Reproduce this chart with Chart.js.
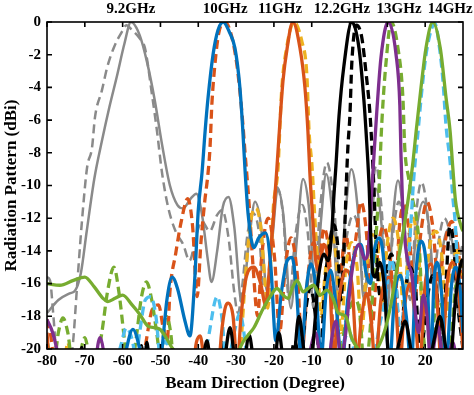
<!DOCTYPE html>
<html>
<head>
<meta charset="utf-8">
<script src="https://cdn.jsdelivr.net/npm/chart.js@4.4.0/dist/chart.umd.min.js"></script>
<style>
    html, body { margin: 0; padding: 0; background: #fff; }
</style>
</head>
<body>
<canvas id="radChart" width="474" height="395"></canvas>
<script>
// Axis ticks
const xTickVals = [-80, -70, -60, -50, -40, -30, -20, -10, 0, 10, 20];
const yTickVals = [0, -2, -4, -6, -8, -10, -12, -14, -16, -18, -20];

// Frequency labels above the plot (x in degrees)
const freqNames = ['9.2GHz', '10GHz', '11GHz', '12.2GHz', '13GHz', '14GHz'];
const freqLabelX = [-57.8, -32.9, -18.4, -2.0, 13.1, 26.6];

// Series: [angle, dBi]
const grey92Solid = [[-80,-17.8],[-77,-17.0],[-74,-16.6],[-72.5,-16.4],[-71,-15.3],[-69.5,-12.8],[-67.5,-9.6],[-65.5,-7.3],[-63.5,-5.2],[-61.5,-3.3],[-59.5,-1.3],[-57.8,0],[-55.5,-0.8],[-53.5,-2.5],[-51.5,-4.8],[-49.5,-7.6],[-47.5,-10.0],[-45.5,-11.2],[-44,-11.4],[-42,-10.8],[-40.5,-10.5],[-39,-11.8],[-37.5,-14.5],[-36.5,-15.9],[-35,-14],[-33.5,-11.3],[-32,-10.7],[-30.5,-12.5],[-28.5,-17.2],[-26.5,-13.2],[-25,-11],[-23.5,-12.3],[-21.8,-16.5],[-20.3,-13],[-19,-10.2],[-17.5,-11.8],[-15.5,-17.5],[-14,-13.5],[-12.3,-9.6],[-10.8,-11.2],[-9,-16.5],[-7.5,-12],[-6.2,-9.3],[-4.5,-11.8],[-2.8,-17.5],[-1.2,-12],[0.5,-9.0],[2.2,-11.5],[3.8,-17],[5.3,-13],[7,-10.2],[8.5,-12.5],[10,-17.5],[11.5,-12],[12.8,-9.7],[14.3,-11.8],[16,-16.5],[17.8,-12.5],[19.5,-11],[21,-12.5],[22.8,-17],[24.5,-14],[26,-12.7],[27.5,-14],[29,-18],[30,-16]];
const grey92Dash = [[-80,-15.6],[-79.2,-15.8],[-78.3,-18],[-77,-21.5],[-74.5,-21.5],[-73.2,-19.8],[-72,-16],[-70.8,-12.3],[-69.4,-8.9],[-68.1,-7.7],[-67.3,-5.8],[-65.5,-4.2],[-64,-2.7],[-62.2,-1.5],[-60.2,-0.6],[-59,-0.2],[-57.5,-0.5],[-55.5,-1.0],[-54.1,-1.6],[-52.2,-4.5],[-50.9,-6.7],[-49.6,-9.2],[-48,-11.3],[-46,-12.8],[-44,-13.6],[-42.3,-14.6],[-40.5,-13],[-39,-12.2],[-37,-12.8],[-35,-11.8],[-33.7,-11.5],[-32,-13.2],[-30.5,-16.5],[-29.5,-17.8],[-28.3,-16],[-27,-13],[-25.5,-11.7],[-24,-12.8],[-22.3,-17.5],[-20.8,-13.5],[-19.2,-10.1],[-17.5,-12],[-16,-17],[-14.3,-13],[-12.5,-11.2],[-11,-13],[-9.5,-17.5],[-8,-12],[-6,-8.6],[-4,-11.5],[-2.5,-16.5],[-1,-13.5],[1,-11.8],[2.5,-13],[4,-17],[5.5,-12],[7,-8.8],[8.5,-11.5],[10,-16.5],[11.5,-13],[13,-11],[14.5,-12.5],[16,-17],[17.5,-12],[19,-9.8],[20.5,-11.5],[22,-16],[23.5,-13.5],[25,-12],[26.5,-13],[28,-16.5],[29.5,-14],[30,-13.5]];

const blue10Solid = [[-80,-23],[-62,-23],[-59.5,-20.5],[-57.3,-18.8],[-55,-20.5],[-53,-23],[-51,-22],[-49.6,-20],[-48.3,-17],[-46.9,-15.6],[-45.5,-16.3],[-43.5,-18.3],[-42.2,-19.2],[-41,-16],[-40,-11.5],[-39,-9.2],[-38.2,-6.7],[-37.4,-4.6],[-36.1,-2.0],[-34.8,-0.5],[-33.4,0],[-31.8,-0.6],[-30.3,-1.6],[-29,-4],[-28.2,-6.7],[-27.6,-9.2],[-26.8,-11.8],[-25.3,-13.8],[-24,-13.2],[-22.2,-12.9],[-20.8,-15],[-19.5,-19.5],[-18,-16.5],[-16.5,-14.6],[-15.2,-14.4],[-14,-16.5],[-12.8,-20.5],[-11.5,-16.5],[-10.2,-14.8],[-9,-16],[-7.5,-20.5],[-6.2,-16.5],[-5,-15.2],[-3.5,-17.5],[-2,-21],[-0.5,-17],[1.5,-14],[3,-13.6],[4.5,-15.5],[5.5,-16],[6.5,-14],[7.8,-13.2],[9.2,-15],[10.5,-21],[12,-16.5],[13.5,-15.5],[15,-18],[16.3,-21],[17.5,-15.5],[18.9,-13.4],[20.5,-15.5],[21.5,-21],[22.3,-16],[23.2,-14.7],[24.3,-16.5],[25.5,-21],[27,-16],[28.2,-15.0],[29.3,-16.5],[30,-19]];
const orange10Dash = [[-80,-18.2],[-79,-19.2],[-77.5,-22],[-56,-22],[-54,-19.8],[-52.2,-17.6],[-50.5,-17.3],[-49.2,-18.8],[-48.2,-19.5],[-47.5,-16.5],[-46,-14.2],[-44.5,-12.2],[-42.8,-10.8],[-41.5,-12.5],[-40.3,-16.8],[-39.3,-13.5],[-38.3,-11],[-37.4,-9.2],[-36.9,-7.7],[-36.4,-5],[-35.6,-2.6],[-34.6,-0.7],[-33,0],[-31.5,-0.6],[-29.8,-2.6],[-28.4,-5.7],[-27.6,-8.1],[-26.6,-11],[-25.5,-15],[-24.3,-18],[-23.3,-14.5],[-21.5,-12],[-19.8,-14.5],[-18.5,-19],[-17,-15],[-15.5,-13.2],[-13.8,-15.5],[-12.5,-20],[-11,-15.5],[-9.5,-13.5],[-8,-14.5],[-6.8,-12.6],[-5.3,-14.5],[-4,-20],[-2.5,-16],[-1,-13],[0.5,-15],[1.8,-13],[3,-11],[4.5,-13],[6,-18.5],[7.5,-14],[9,-12.5],[10.5,-14],[12,-17],[13.2,-12.5],[14.4,-11.2],[15.8,-13],[17.2,-17],[18.8,-13],[20.5,-11],[22,-12.5],[23.5,-16],[25.2,-13.5],[27,-12.2],[28.5,-13.5],[30,-17]];

const orange11Solid = [[-80,-19],[-79,-22],[-42,-22],[-40.5,-19.6],[-39.5,-19.2],[-38.3,-21],[-35,-24],[-34.2,-20],[-33,-17.6],[-32,-17.2],[-30.8,-18],[-29.7,-21],[-28.7,-18],[-27.2,-15.5],[-25.3,-15.0],[-23.5,-16],[-22.2,-17.3],[-21,-14.5],[-20,-11.5],[-19.2,-8.9],[-18.4,-6.1],[-17.6,-3.6],[-16.5,-1.6],[-15,0],[-13.1,-1.6],[-11.8,-4],[-11,-6.7],[-10.5,-9.2],[-9.8,-11.8],[-9,-14.5],[-8.2,-15.2],[-6.8,-13.6],[-5.3,-15.5],[-4.2,-20.5],[-2.8,-17],[-1,-15.2],[0.6,-16],[2,-20.5],[3.2,-18],[4.5,-16.6],[5.8,-18.5],[6.8,-21],[8.3,-17],[10.5,-15.6],[12.3,-17.5],[13.3,-21],[14.5,-17.5],[16,-16],[17.5,-18.5],[18.5,-21],[20,-16],[21.5,-14.8],[23,-16.5],[24.3,-21],[25.8,-16],[27.3,-14.7],[28.8,-16.5],[30,-20]];
const yellow11Dash = [[-80,-22],[-76,-22],[-74.5,-19.6],[-73,-22],[-30,-22],[-29,-20.5],[-27.5,-15.5],[-26,-12],[-24.8,-11.4],[-23.5,-12.5],[-22.5,-15.5],[-21.6,-17.5],[-20.8,-14.5],[-20.2,-11.5],[-18.9,-8.9],[-18.4,-6.3],[-17.9,-4],[-16.8,-1.8],[-14.7,0],[-12.6,-1.2],[-11.3,-3.2],[-10.7,-6.7],[-9.9,-8.9],[-9.3,-11.5],[-8.5,-14.5],[-7.5,-18],[-6.5,-15.5],[-5,-13],[-3.5,-14.5],[-2.3,-19],[-1,-15],[0.5,-13.5],[2,-15],[3.2,-19],[4.5,-15],[6,-13],[7.5,-14],[8.5,-17.5],[10,-13.5],[11.5,-12],[13,-13.5],[14.3,-17.5],[15.8,-13],[16.8,-12],[18.2,-14],[19.5,-18],[21,-14],[22.8,-12.8],[24.5,-14.5],[25.5,-18],[27,-15],[28.5,-14],[30,-15.5]];

const black122Solid = [[-80,-23],[-71.5,-21],[-70.8,-19.9],[-70,-21],[-55,-23],[-54,-20.5],[-53.6,-19.6],[-53,-20.5],[-45,-24],[-39,-21],[-37.7,-19.5],[-36.5,-21],[-33.5,-21],[-31.6,-18.7],[-30,-21],[-28,-21],[-26.6,-19.1],[-25,-21],[-20,-21],[-18.7,-19],[-17.2,-21],[-15,-21],[-13.4,-18],[-11.8,-20.5],[-10.3,-21],[-9.2,-18.5],[-8.3,-15.8],[-6.8,-14.2],[-5.6,-14.6],[-4.6,-12.5],[-4.1,-10.5],[-3.6,-8.8],[-2.8,-5.8],[-1.5,-2.7],[0.6,0],[2.5,-1.6],[3.8,-4.8],[4.6,-7.6],[5.2,-10.2],[5.6,-13],[6.1,-15.3],[6.8,-15.6],[8,-14.7],[9.3,-16.5],[10.3,-20.5],[11.5,-21],[13.2,-19.5],[14.7,-18.3],[16.2,-20],[17.5,-22],[20,-22],[22.3,-19.5],[23.9,-18],[25.5,-20],[26.5,-21],[28,-17],[29.5,-14.7],[30,-14.5]];
const black122Dash = [[-80,-22],[-56,-22],[-55,-19.8],[-54,-22],[-35,-22],[-33.5,-19.6],[-32.5,-22],[-16,-21],[-14.5,-19.5],[-13,-21],[-11.5,-17.5],[-10.3,-16.2],[-9,-18],[-7.8,-20.5],[-6.5,-16],[-5.2,-13.4],[-4.2,-12.4],[-3.2,-13.5],[-2.3,-17],[-1.5,-14],[-0.7,-9],[-0.4,-7.5],[0.1,-5.7],[0.6,-2.5],[1.8,-0.2],[3.2,-0.9],[4.4,-3.2],[5.4,-5.6],[6,-8],[6.5,-10.5],[7,-13.5],[7.6,-16],[8.5,-17],[9.6,-15.5],[11,-14.2],[12.3,-16],[13.3,-20],[14.5,-17],[16,-15],[17.5,-16.5],[18.7,-20.5],[20.5,-17],[22,-15.5],[23.3,-17],[24.3,-20],[25.5,-16],[26.5,-12.5],[27.5,-13.5],[28.5,-17],[30,-20]];

const purple13Solid = [[-80,-18.2],[-78.5,-19],[-77,-20.5],[-75.5,-23],[-68,-22],[-66,-19.3],[-64,-21.5],[-60,-23],[-22,-23],[-20,-20.5],[-19,-20],[-18,-21],[-12,-22],[-10.3,-20],[-9,-19],[-7.8,-20.5],[-6,-22],[-4.8,-19.5],[-3.6,-18.3],[-2.3,-20.5],[-1,-19],[0.5,-15.5],[2.5,-13.6],[4,-14.5],[4.9,-14],[5.7,-11],[6.5,-8],[7.2,-5.5],[8.3,-2.2],[10.2,0],[12.3,-2],[13.3,-5.1],[13.6,-8.1],[14,-11],[14.7,-13.5],[15.6,-14.8],[16.5,-15.5],[17.5,-18],[18.3,-19],[19.5,-16.7],[20.5,-18],[21.5,-21],[22.5,-19.5],[23.4,-18.6],[24.5,-20.5],[25.5,-21],[27.3,-19.6],[28.5,-21],[30,-22]];
const green13Dash = [[-80,-19.5],[-79,-20.5],[-78,-20.5],[-77,-19],[-75.8,-18.1],[-74.5,-19],[-73.2,-21],[-71.5,-20.5],[-70,-19.3],[-68.8,-20.5],[-67.5,-21.5],[-65.5,-19],[-64,-16.5],[-62.3,-15],[-61,-16.5],[-59.5,-19.5],[-58.3,-22],[-56.5,-19.5],[-55,-16.8],[-53.7,-15.9],[-52.3,-17],[-51,-19],[-50,-20.5],[-48.5,-18],[-47.3,-19],[-46,-22],[-4,-22],[-3,-21],[-1.5,-19],[0,-17.5],[1.5,-17],[2.8,-18],[3.8,-21],[5,-20],[6.5,-15],[7.3,-12],[8,-9.2],[8.3,-7.3],[8.8,-5.1],[9.6,-2.6],[11,0],[12.8,-1.6],[14.1,-4.6],[14.6,-7.7],[15.6,-9.5],[16.8,-11],[17.6,-11.8],[18.5,-14],[19.5,-19],[20.5,-20.5],[22,-19],[23,-17],[24.5,-17.5],[25.8,-21],[27,-19],[28.3,-16],[29.5,-17],[30,-18.5]];

const green14Solid = [[-80,-16],[-76.6,-16.1],[-73,-15.8],[-70,-15.6],[-67.5,-16.2],[-65.2,-16.9],[-63.9,-17.1],[-62,-16.9],[-60,-16.7],[-57.5,-17.3],[-55.4,-17.9],[-53.3,-18.6],[-51.5,-18.7],[-50.1,-18.8],[-48.5,-19.3],[-46.7,-20],[-44,-20.6],[-40,-21],[-35,-21.5],[-30.5,-21],[-28.7,-19.8],[-27,-19.2],[-25.3,-18.7],[-23,-17.6],[-21,-16.8],[-19.2,-16.3],[-17.6,-16.7],[-16.3,-16.9],[-15,-16.2],[-13.9,-15.8],[-12.3,-16.5],[-11,-16.3],[-9.5,-16.1],[-7.8,-16.7],[-6,-16.4],[-4.4,-16.9],[-3,-17.8],[-1,-18],[0.5,-19.3],[2,-19.9],[4.5,-20.5],[7.5,-19.9],[9.4,-18.8],[11,-17.2],[12.8,-14.7],[14.7,-12.1],[16,-10],[16.8,-8.5],[17.6,-6.7],[18.9,-4],[20.2,-1.6],[22,0],[24,-1.6],[25.5,-4.6],[26.6,-6.7],[27.3,-8.9],[28,-10.9],[29.5,-12.5],[30,-12.8]];
const lblue14Dash = [[-80,-20.5],[-62,-21],[-60.5,-19.8],[-59,-18.7],[-57.5,-19.4],[-56.5,-20.5],[-55.5,-19],[-54,-17],[-52.5,-16.8],[-51.2,-18],[-50,-20.5],[-48.5,-19.5],[-47,-21],[-40,-22],[-37.5,-19.5],[-35,-16.8],[-33.8,-18],[-32.5,-21],[-30.5,-19],[-29,-17.8],[-27.5,-19.8],[-26.5,-22],[-10,-22],[-3,-21],[-1.5,-19.5],[0,-19],[1.5,-20.5],[3,-22],[6,-21],[8,-18.5],[9.6,-16.7],[11,-14.5],[12,-15.5],[13.5,-19],[14.5,-17],[15.5,-15],[16.3,-12],[17,-9.5],[18,-7],[19.2,-4],[20.5,-1.6],[22.6,-0.1],[23.8,-1.6],[24.7,-3.6],[25.5,-6.3],[26.6,-8.6],[27.3,-10.7],[28,-12.5],[28.7,-16],[29.3,-18],[30,-19]];

// Line colours (MATLAB defaults + grey/black)
const colors = {
    grey: '#8a8a8a', blue: '#0072BD', orange: '#D95319', yellow: '#EDB120',
    black: '#000000', purple: '#7E2F8E', green: '#77AC30', lblue: '#4DBEEE'
};

const serif = '"Liberation Serif", "Times New Roman", serif';

function makeLine(label, pts, color, dashed, width) {
    return {
        label: label,
        data: pts.map(p => ({ x: p[0], y: p[1] })),
        borderColor: color,
        borderWidth: width,
        borderDash: dashed ? [9, 5] : [],
        pointRadius: 0,
        fill: false,
        clip: 0,
        cubicInterpolationMode: 'monotone'
    };
}

// first dataset is drawn on top
const datasets = [
    makeLine('14GHz', green14Solid, colors.green, false, 3.3),
    makeLine('12.2GHz', black122Solid, colors.black, false, 3.3),
    makeLine('13GHz', purple13Solid, colors.purple, false, 3.3),
    makeLine('10GHz', blue10Solid, colors.blue, false, 3.3),
    makeLine('11GHz', orange11Solid, colors.orange, false, 3.3),
    makeLine('14GHz sim', lblue14Dash, colors.lblue, true, 3.3),
    makeLine('13GHz sim', green13Dash, colors.green, true, 3.3),
    makeLine('12.2GHz sim', black122Dash, colors.black, true, 3.3),
    makeLine('11GHz sim', yellow11Dash, colors.yellow, true, 3.3),
    makeLine('10GHz sim', orange10Dash, colors.orange, true, 3.3),
    makeLine('9.2GHz', grey92Solid, colors.grey, false, 2.5),
    makeLine('9.2GHz sim', grey92Dash, colors.grey, true, 2.5)
];

// Box, inward ticks and frequency labels
const framePlugin = {
    id: 'frame',
    afterDatasetsDraw(chart) {
        const { ctx, chartArea: a, scales: { x, y } } = chart;
        ctx.save();
        ctx.strokeStyle = '#000';
        ctx.lineWidth = 1.6;
        ctx.strokeRect(a.left, a.top, a.right - a.left, a.bottom - a.top);
        ctx.beginPath();
        xTickVals.forEach(v => {
            const px = x.getPixelForValue(v);
            ctx.moveTo(px, a.bottom); ctx.lineTo(px, a.bottom - 5);
            ctx.moveTo(px, a.top); ctx.lineTo(px, a.top + 5);
        });
        yTickVals.forEach(v => {
            const py = y.getPixelForValue(v);
            ctx.moveTo(a.left, py); ctx.lineTo(a.left + 5, py);
            ctx.moveTo(a.right, py); ctx.lineTo(a.right - 5, py);
        });
        ctx.stroke();

        ctx.fillStyle = '#000';
        ctx.font = 'bold 15px ' + serif;
        ctx.textAlign = 'center';
        ctx.textBaseline = 'middle';
        freqNames.forEach((name, i) => {
            ctx.fillText(name, x.getPixelForValue(freqLabelX[i]), 9);
        });
        ctx.restore();
    }
};

const tickFont = { family: serif, weight: 'bold', size: 15 };
const titleFont = { family: serif, weight: 'bold', size: 17 };

new Chart(document.getElementById('radChart'), {
    type: 'line',
    data: { datasets: datasets },
    options: {
        responsive: false,
        animation: false,
        layout: { padding: { top: 22, right: 11, left: 0, bottom: 0 } },
        plugins: {
            legend: { display: false },
            tooltip: { enabled: false }
        },
        scales: {
            x: {
                type: 'linear',
                min: -80,
                max: 30,
                afterBuildTicks: s => { s.ticks = xTickVals.map(v => ({ value: v })); },
                afterFit: s => { s.height = 46; },
                grid: { display: false, drawTicks: false },
                border: { display: false },
                ticks: { color: '#000', font: tickFont, padding: 3, maxRotation: 0, callback: v => String(v) },
                title: { display: true, text: 'Beam Direction (Degree)', color: '#000', font: titleFont, padding: { top: 0, bottom: 1 } }
            },
            y: {
                type: 'linear',
                min: -20,
                max: 0,
                afterBuildTicks: s => { s.ticks = yTickVals.map(v => ({ value: v })); },
                afterFit: s => { s.width = 47; },
                grid: { display: false, drawTicks: false },
                border: { display: false },
                ticks: { color: '#000', font: tickFont, padding: 6, callback: v => String(v) },
                title: { display: true, text: 'Radiation Pattern (dBi)', color: '#000', font: titleFont, padding: { top: 1, bottom: 0 } }
            }
        }
    },
    plugins: [framePlugin]
});
</script>
</body>
</html>
